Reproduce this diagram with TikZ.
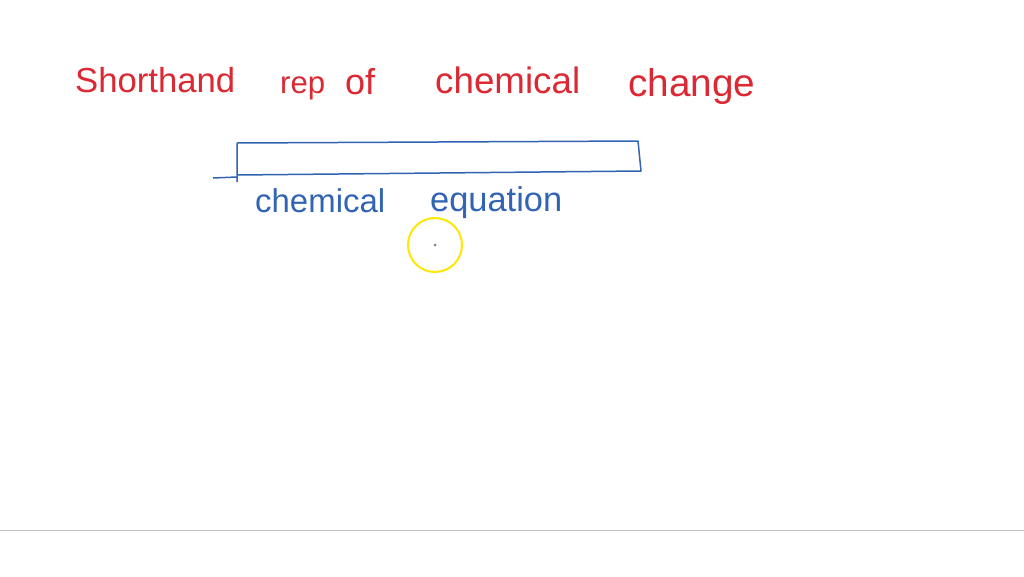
\documentclass[tikz,border=0pt]{standalone}
\usepackage{fontspec}
\setmainfont{Liberation Sans}
\definecolor{pen}{RGB}{220,40,50}
\definecolor{blu}{RGB}{50,100,180}
\tikzset{rw/.style={text=pen,inner sep=0pt,font=\fontsize{34}{36}\selectfont},
bw/.style={text=blu,inner sep=0pt,font=\fontsize{30}{32}\selectfont}}
\begin{document}
\begin{tikzpicture}[x=1pt,y=-1pt]
\useasboundingbox (0,0) rectangle (1024,576);
\fill[white] (0,0) rectangle (1024,576);
\node[rw,anchor=west] (w1) at (75,80) {\resizebox{160pt}{!}{Shorthand}};
\node[rw,anchor=west] (w2) at (280,88) {\resizebox{45pt}{!}{rep}};
\node[rw,anchor=west] (w3) at (345,82) {\resizebox{30pt}{!}{of}};
\node[rw,anchor=west] (w4) at (435,80) {\resizebox{145pt}{!}{chemical}};
\node[rw,anchor=west] (w5) at (628,86) {\resizebox{127pt}{!}{change}};
\draw[blu,line width=1.5pt,line join=round] (237,182) -- (237,143) -- (638,141) -- (641,171) -- (237,175);
\draw[blu,line width=1.5pt] (213,178) -- (237,177);
\node[bw,anchor=west] (b1) at (255,201) {\resizebox{130pt}{!}{chemical}};
\node[bw,anchor=west] (b2) at (430,203) {\resizebox{132pt}{!}{equation}};
\draw[yellow!90!orange,line width=2pt] (435,245) circle (27);
\fill[gray] (435,245) circle (1.5);
\draw[gray!50,line width=1pt] (0,530) -- (1024,530);
\end{tikzpicture}
\end{document}
